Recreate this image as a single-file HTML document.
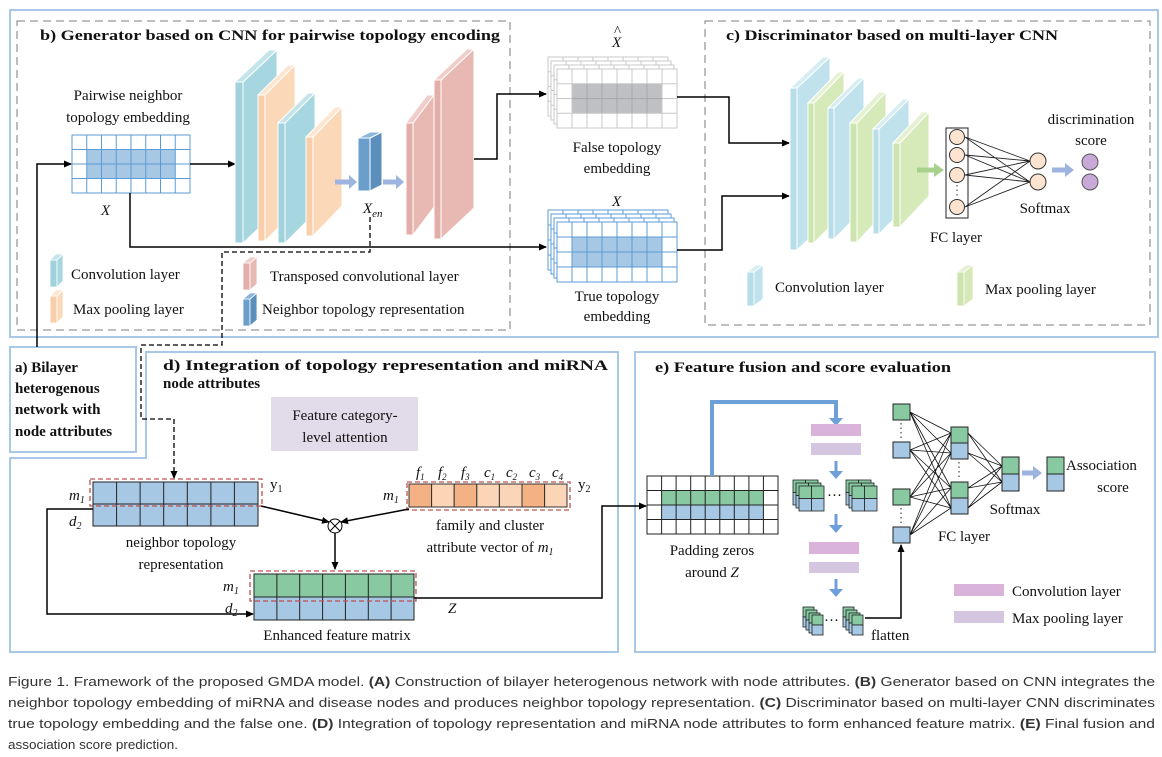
<!DOCTYPE html>
<html><head><meta charset="utf-8"><style>
html,body{margin:0;padding:0;background:#fff;}
svg{display:block;}
text{font-family:"Liberation Serif",serif;font-size:15px;fill:#111;}
.b{font-weight:bold;}
.i{font-style:italic;}
.cap{font-family:"Liberation Sans",sans-serif;font-size:13px;fill:#333;}
</style></head><body>
<svg width="1162" height="757" viewBox="0 0 1162 757" xmlns="http://www.w3.org/2000/svg">
<defs>
<marker id="ah" markerWidth="8" markerHeight="8" refX="7" refY="4" orient="auto" markerUnits="userSpaceOnUse"><path d="M0,0.5 L8,4 L0,7.5 Z" fill="#000"/></marker>
<marker id="bh" markerWidth="12" markerHeight="12" refX="9" refY="6" orient="auto" markerUnits="userSpaceOnUse"><path d="M0,0 L10,6 L0,12 Z" fill="#6f9fd8"/></marker>
<g id="fg">
<rect x="0" y="0" width="120" height="59" fill="#fff" stroke="#c8c8c8"/>
<rect x="15" y="14.75" width="90" height="29.5" fill="#bfc0c3"/>
<path d="M15,0V59M30,0V59M45,0V59M60,0V59M75,0V59M90,0V59M105,0V59M0,14.75H120M0,29.5H120M0,44.25H120" stroke="#c8c8c8" stroke-width="1" fill="none"/>
<path d="M15,29.5H105M30,14.75V44.25M45,14.75V44.25M60,14.75V44.25M75,14.75V44.25M90,14.75V44.25" stroke="#a8a8aa" fill="none"/>
</g>
<g id="tg">
<rect x="0" y="0" width="120" height="60" fill="#fff" stroke="#5b9bd5"/>
<rect x="15" y="15" width="90" height="30" fill="#a6c8e4"/>
<path d="M15,0V60M30,0V60M45,0V60M60,0V60M75,0V60M90,0V60M105,0V60M0,15H120M0,30H120M0,45H120" stroke="#5b9bd5" stroke-width="1" fill="none"/>
</g>
<g id="cube">
<rect x="0" y="0" width="12.5" height="12.5" fill="#88c9a1" stroke="#222" stroke-width="0.8"/>
<rect x="12.5" y="0" width="12.5" height="12.5" fill="#88c9a1" stroke="#222" stroke-width="0.8"/>
<rect x="0" y="12.5" width="12.5" height="12.5" fill="#a6c8e4" stroke="#222" stroke-width="0.8"/>
<rect x="12.5" y="12.5" width="12.5" height="12.5" fill="#a6c8e4" stroke="#222" stroke-width="0.8"/>
</g>
<g id="stack"><use href="#cube" x="0" y="0"/><use href="#cube" x="3" y="3"/><use href="#cube" x="6" y="6"/></g>
<g id="sc">
<rect x="0" y="0" width="11" height="10" fill="#88c9a1" stroke="#222" stroke-width="0.8"/>
<rect x="0" y="10" width="11" height="10" fill="#a6c8e4" stroke="#222" stroke-width="0.8"/>
</g>
<g id="sstack"><use href="#sc" x="0" y="0"/><use href="#sc" x="3" y="3"/><use href="#sc" x="6" y="6"/><use href="#sc" x="9" y="8"/></g>
</defs>

<!-- outer boxes -->
<rect x="10" y="10" width="1148" height="327" fill="none" stroke="#a9c8e8" stroke-width="2"/>
<rect x="17" y="21" width="493" height="309" fill="none" stroke="#999" stroke-width="1.3" stroke-dasharray="8,5"/>
<rect x="705" y="21" width="445" height="304" fill="none" stroke="#999" stroke-width="1.3" stroke-dasharray="8,5"/>
<rect x="10" y="347" width="126" height="105" fill="none" stroke="#a9c8e8" stroke-width="2"/>
<path d="M146,352 H618 V652 H10 V458 H146 Z" fill="none" stroke="#a9c8e8" stroke-width="2"/>
<rect x="635" y="352" width="520" height="300" fill="none" stroke="#a9c8e8" stroke-width="2"/>

<!-- b) -->
<text x="40" y="40" class="b" textLength="460" lengthAdjust="spacingAndGlyphs">b)  Generator based on CNN for pairwise topology encoding</text>
<text x="128" y="100" text-anchor="middle">Pairwise neighbor</text>
<text x="128" y="122" text-anchor="middle">topology embedding</text>
<rect x="72" y="135" width="118" height="58" fill="#fff" stroke="#5b9bd5"/>
<rect x="86.75" y="149.5" width="88.5" height="29" fill="#a6c8e4"/>
<path d="M86.75,135V193M101.5,135V193M116.25,135V193M131,135V193M145.75,135V193M160.5,135V193M175.25,135V193M72,149.5H190M72,164H190M72,178.5H190" stroke="#5b9bd5" fill="none"/>
<text x="101" y="215" class="i">X</text>
<path d="M190,164 H235" stroke="#000" stroke-width="1.5" fill="none" marker-end="url(#ah)"/>
<path d="M37,347 V164 H71" stroke="#000" stroke-width="1.5" fill="none" marker-end="url(#ah)"/>
<path d="M130,193 V247 H546" stroke="#000" stroke-width="1.5" fill="none" marker-end="url(#ah)"/>

<!-- generator slabs -->
<g stroke="#fff" stroke-width="1">
<rect x="235" y="82" width="8" height="161" fill="#9fd2dc"/><polygon points="243,82 277,50 277,211 243,243" fill="#a6d6df"/><polygon points="235,82 269,50 277,50 243,82" fill="#c2e4ea"/>
<rect x="258" y="95" width="7" height="146" fill="#f8cfaa"/><polygon points="265,95 295,65 295,211 265,241" fill="#fbd8b8"/><polygon points="258,95 288,65 295,65 265,95" fill="#fde6d0"/>
<rect x="278" y="123" width="7" height="120" fill="#9fd2dc"/><polygon points="285,123 315,93 315,213 285,243" fill="#a6d6df"/><polygon points="278,123 308,93 315,93 285,123" fill="#c2e4ea"/>
<rect x="306" y="137" width="7" height="99" fill="#f8cfaa"/><polygon points="313,137 342,107 342,206 313,236" fill="#fbd8b8"/><polygon points="306,137 335,107 342,107 313,137" fill="#fde6d0"/>
<rect x="358" y="138" width="12" height="53" fill="#6a9fcb"/><polygon points="370,138 382,132 382,185 370,191" fill="#5a8fbd"/><polygon points="358,138 370,132 382,132 370,138" fill="#8ab6dc"/>
<rect x="406" y="123" width="7" height="112" fill="#e3aea9"/><polygon points="413,123 434,95 434,207 413,235" fill="#e8b8b3"/><polygon points="406,123 427,95 434,95 413,123" fill="#f0cdc9"/>
<rect x="434" y="80" width="7" height="159" fill="#e3aea9"/><polygon points="441,80 474,49 474,208 441,239" fill="#e8b8b3"/><polygon points="434,80 467,49 474,49 441,80" fill="#f0cdc9"/>
</g>
<path d="M335,182 H350" stroke="#9db3e0" stroke-width="5"/><polygon points="349,175 357,182 349,189" fill="#9db3e0"/>
<path d="M383,182 H397" stroke="#9db3e0" stroke-width="5"/><polygon points="396,175 404,182 396,189" fill="#9db3e0"/>
<text x="363" y="213" class="i">X<tspan font-size="11" dy="4">en</tspan></text>
<path d="M474,159 H497 V94 H546" stroke="#000" stroke-width="1.5" fill="none" marker-end="url(#ah)"/>
<path d="M370,217 V252 H222 V345 H141 V419 H174 V478" stroke="#000" stroke-width="1.3" fill="none" stroke-dasharray="5,3" marker-end="url(#ah)"/>

<!-- b legend -->
<g stroke="#fff" stroke-width="0.8">
<rect x="50" y="260" width="7" height="27" fill="#9fd2dc"/><polygon points="57,260 63,254 63,281 57,287" fill="#a6d6df"/><polygon points="50,260 56,254 63,254 57,260" fill="#c2e4ea"/>
<rect x="50" y="296" width="7" height="27" fill="#f8cfaa"/><polygon points="57,296 63,290 63,317 57,323" fill="#fbd8b8"/><polygon points="50,296 56,290 63,290 57,296" fill="#fde6d0"/>
<rect x="243" y="263" width="7" height="27" fill="#e3aea9"/><polygon points="250,263 257,257 257,284 250,290" fill="#e8b8b3"/><polygon points="243,263 250,257 257,257 250,263" fill="#f0cdc9"/>
<rect x="243" y="299" width="7" height="27" fill="#6a9fcb"/><polygon points="250,299 257,293 257,320 250,326" fill="#5a8fbd"/><polygon points="243,299 250,293 257,293 250,299" fill="#8ab6dc"/>
</g>
<text x="71" y="279">Convolution layer</text>
<text x="73" y="314">Max pooling layer</text>
<text x="270" y="281">Transposed convolutional layer</text>
<text x="262" y="314">Neighbor topology representation</text>

<!-- middle grids -->
<text x="612" y="47" class="i">X</text><text x="614" y="36" font-size="12">^</text>
<use href="#fg" x="548" y="57"/><use href="#fg" x="551" y="61"/><use href="#fg" x="554" y="65"/><use href="#fg" x="557" y="69"/>
<text x="617" y="152" text-anchor="middle">False topology</text>
<text x="617" y="173" text-anchor="middle">embedding</text>
<text x="612" y="206" class="i">X</text>
<use href="#tg" x="548" y="210"/><use href="#tg" x="551" y="214"/><use href="#tg" x="554" y="218"/><use href="#tg" x="557" y="222"/>
<text x="617" y="301" text-anchor="middle">True topology</text>
<text x="617" y="321" text-anchor="middle">embedding</text>
<path d="M677,97 H729 V143 H789" stroke="#000" stroke-width="1.5" fill="none" marker-end="url(#ah)"/>
<path d="M677,250 H722 V196 H789" stroke="#000" stroke-width="1.5" fill="none" marker-end="url(#ah)"/>

<!-- c) -->
<text x="726" y="40" class="b" textLength="332" lengthAdjust="spacingAndGlyphs">c) Discriminator based on multi-layer CNN</text>
<g stroke="#fff" stroke-width="1">
<rect x="790" y="88" width="7" height="162" fill="#b6dde8"/><polygon points="797,88 830,57 830,219 797,250" fill="#bfe2ec"/><polygon points="790,88 823,57 830,57 797,88" fill="#d6edf3"/>
<rect x="808" y="103" width="6" height="140" fill="#cde4ae"/><polygon points="814,103 844,72 844,212 814,243" fill="#d6e9b8"/><polygon points="808,103 838,72 844,72 814,103" fill="#e5f1d2"/>
<rect x="828" y="108" width="6" height="131" fill="#b6dde8"/><polygon points="834,108 864,78 864,209 834,239" fill="#bfe2ec"/><polygon points="828,108 858,78 864,78 834,108" fill="#d6edf3"/>
<rect x="850" y="123" width="7" height="119" fill="#cde4ae"/><polygon points="857,123 886,92 886,211 857,242" fill="#d6e9b8"/><polygon points="850,123 879,92 886,92 857,123" fill="#e5f1d2"/>
<rect x="873" y="129" width="6" height="105" fill="#b6dde8"/><polygon points="879,129 909,99 909,204 879,234" fill="#bfe2ec"/><polygon points="873,129 903,99 909,99 879,129" fill="#d6edf3"/>
<rect x="893" y="143" width="7" height="84" fill="#cde4ae"/><polygon points="900,143 929,112 929,196 900,227" fill="#d6e9b8"/><polygon points="893,143 922,112 929,112 900,143" fill="#e5f1d2"/>
</g>
<path d="M917,170 H935" stroke="#a9d18e" stroke-width="5"/><polygon points="934,163 944,170 934,177" fill="#a9d18e"/>
<rect x="946" y="128" width="22" height="90" fill="#fff" stroke="#222"/>
<g stroke="#222" stroke-width="0.9">
<path d="M965,137L1030,161M965,137L1030,182M965,155L1030,161M965,155L1030,182M965,175L1030,161M965,175L1030,182M965,207L1030,161M965,207L1030,182" fill="none"/>
</g>
<g fill="#fce4d0" stroke="#333">
<circle cx="957" cy="137" r="7.5"/><circle cx="957" cy="155" r="7.5"/><circle cx="957" cy="175" r="7.5"/><circle cx="957" cy="207" r="7.5"/>
<circle cx="1038" cy="161" r="8"/><circle cx="1038" cy="182" r="8"/>
</g>
<path d="M957,185V197" stroke="#333" stroke-dasharray="1.5,3"/>
<path d="M1052,170 H1066" stroke="#9db3e0" stroke-width="5"/><polygon points="1065,163 1074,170 1065,177" fill="#9db3e0"/>
<g fill="#c9a9d8" stroke="#555"><circle cx="1090" cy="162" r="8"/><circle cx="1090" cy="182" r="8"/></g>
<text x="1091" y="124" text-anchor="middle">discrimination</text>
<text x="1091" y="145" text-anchor="middle">score</text>
<text x="1045" y="213" text-anchor="middle">Softmax</text>
<text x="956" y="242" text-anchor="middle">FC layer</text>
<g stroke="#fff" stroke-width="0.8">
<rect x="747" y="272" width="7" height="34" fill="#b6dde8"/><polygon points="754,272 763,265 763,299 754,306" fill="#bfe2ec"/><polygon points="747,272 756,265 763,265 754,272" fill="#d6edf3"/>
<rect x="957" y="272" width="7" height="34" fill="#cde4ae"/><polygon points="964,272 973,265 973,299 964,306" fill="#d6e9b8"/><polygon points="957,272 966,265 973,265 964,272" fill="#e5f1d2"/>
</g>
<text x="775" y="292">Convolution layer</text>
<text x="985" y="294">Max pooling layer</text>

<!-- a) -->
<text x="15" y="372" class="b">a)  Bilayer</text>
<text x="15" y="393" class="b">heterogenous</text>
<text x="15" y="414" class="b">network with</text>
<text x="15" y="436" class="b">node attributes</text>

<!-- d) -->
<text x="163" y="370" class="b" textLength="445" lengthAdjust="spacingAndGlyphs">d) Integration of topology representation and miRNA</text>
<text x="163" y="388" class="b">node attributes</text>
<rect x="271" y="397" width="147" height="54" fill="#e2dcea"/>
<text x="345" y="420" text-anchor="middle">Feature  category-</text>
<text x="345" y="442" text-anchor="middle">level attention</text>

<rect x="93" y="482" width="165" height="44" fill="#a6c8e4" stroke="#222"/>
<path d="M116.6,482V526M140.1,482V526M163.7,482V526M187.3,482V526M210.9,482V526M234.4,482V526M93,504H258" stroke="#222" fill="none"/>
<rect x="90" y="479" width="172" height="27" fill="none" stroke="#c0504d" stroke-width="1.3" stroke-dasharray="5,3"/>
<text x="270" y="489">y<tspan font-size="10" dy="3">1</tspan></text>
<text x="69" y="500" class="i">m<tspan font-size="10" dy="3">1</tspan></text>
<text x="69" y="526" class="i">d<tspan font-size="10" dy="3">2</tspan></text>
<text x="181" y="547" text-anchor="middle">neighbor topology</text>
<text x="181" y="569" text-anchor="middle">representation</text>

<g stroke="#333">
<rect x="409" y="484" width="22.6" height="23" fill="#f4b183"/>
<rect x="431.6" y="484" width="22.6" height="23" fill="#fbd5b5"/>
<rect x="454.2" y="484" width="22.6" height="23" fill="#f4b183"/>
<rect x="476.8" y="484" width="22.6" height="23" fill="#fbd5b5"/>
<rect x="499.4" y="484" width="22.6" height="23" fill="#fbd5b5"/>
<rect x="522" y="484" width="22.6" height="23" fill="#f4b183"/>
<rect x="544.6" y="484" width="22.4" height="23" fill="#fbd5b5"/>
</g>
<rect x="407" y="482" width="163" height="28" fill="none" stroke="#c0504d" stroke-width="1.3" stroke-dasharray="5,3"/>
<g class="i" font-size="13">
<text x="416" y="477" class="i" font-size="13">f<tspan font-size="9" dy="3">1</tspan></text>
<text x="438" y="477" class="i" font-size="13">f<tspan font-size="9" dy="3">2</tspan></text>
<text x="461" y="477" class="i" font-size="13">f<tspan font-size="9" dy="3">3</tspan></text>
<text x="484" y="477" class="i" font-size="13">c<tspan font-size="9" dy="3">1</tspan></text>
<text x="506" y="477" class="i" font-size="13">c<tspan font-size="9" dy="3">2</tspan></text>
<text x="529" y="477" class="i" font-size="13">c<tspan font-size="9" dy="3">3</tspan></text>
<text x="552" y="477" class="i" font-size="13">c<tspan font-size="9" dy="3">4</tspan></text>
</g>
<text x="578" y="489">y<tspan font-size="10" dy="3">2</tspan></text>
<text x="383" y="500" class="i">m<tspan font-size="10" dy="3">1</tspan></text>
<text x="490" y="530" text-anchor="middle">family and cluster</text>
<text x="490" y="552" text-anchor="middle">attribute vector of <tspan class="i">m</tspan><tspan font-size="10" dy="3" class="i">1</tspan></text>

<path d="M261,506 L329,522" stroke="#000" stroke-width="1.5" fill="none" marker-end="url(#ah)"/>
<path d="M409,509 L341,522" stroke="#000" stroke-width="1.5" fill="none" marker-end="url(#ah)"/>
<circle cx="335" cy="526" r="7" fill="#fff" stroke="#000"/>
<path d="M330,521L340,531M340,521L330,531" stroke="#000"/>
<path d="M335,533 V569" stroke="#000" stroke-width="1.5" fill="none" marker-end="url(#ah)"/>

<rect x="254" y="574" width="160" height="23" fill="#88c9a1" stroke="#222"/>
<rect x="254" y="597" width="160" height="23" fill="#a6c8e4" stroke="#222"/>
<path d="M276.9,574V620M299.7,574V620M322.6,574V620M345.4,574V620M368.3,574V620M391.1,574V620" stroke="#222"/>
<rect x="250" y="571" width="166" height="30" fill="none" stroke="#c0504d" stroke-width="1.3" stroke-dasharray="5,3"/>
<text x="223" y="591" class="i">m<tspan font-size="10" dy="3">1</tspan></text>
<text x="225" y="613" class="i">d<tspan font-size="10" dy="3">2</tspan></text>
<text x="337" y="640" text-anchor="middle">Enhanced feature matrix</text>
<path d="M93,509 H47 V614 H253" stroke="#000" stroke-width="1.5" fill="none" marker-end="url(#ah)"/>
<path d="M414,598 H602 V506 H646" stroke="#000" stroke-width="1.5" fill="none" marker-end="url(#ah)"/>
<text x="448" y="613" class="i">Z</text>

<!-- e) -->
<text x="655" y="372" class="b" textLength="296" lengthAdjust="spacingAndGlyphs">e) Feature fusion and  score evaluation</text>
<rect x="647" y="476" width="131" height="58" fill="#fff" stroke="#222"/>
<rect x="661.6" y="490.5" width="102.2" height="14.5" fill="#88c9a1"/>
<rect x="661.6" y="505" width="102.2" height="14.5" fill="#a6c8e4"/>
<path d="M661.6,476V534M676.1,476V534M690.7,476V534M705.2,476V534M719.8,476V534M734.3,476V534M748.9,476V534M763.4,476V534M647,490.5H778M647,505H778M647,519.5H778" stroke="#222" fill="none"/>
<text x="712" y="555" text-anchor="middle">Padding zeros</text>
<text x="712" y="577" text-anchor="middle">around <tspan class="i">Z</tspan></text>
<path d="M712,476 V402 H836 V420" stroke="#6f9fd8" stroke-width="4" fill="none"/>
<polygon points="829,418 843,418 836,426" fill="#6f9fd8"/>
<rect x="811" y="424" width="50" height="12" fill="#d9b3d9"/>
<rect x="811" y="443" width="50" height="12" fill="#d4c5e0"/>
<path d="M836,461V472" stroke="#6f9fd8" stroke-width="3"/><polygon points="829,471 843,471 836,479" fill="#6f9fd8"/>
<use href="#stack" x="793" y="480"/><use href="#stack" x="846" y="480"/>
<text x="827" y="500" font-size="14">···</text>
<path d="M836,514V526" stroke="#6f9fd8" stroke-width="3"/><polygon points="829,525 843,525 836,533" fill="#6f9fd8"/>
<rect x="809" y="542" width="50" height="12" fill="#d9b3d9"/>
<rect x="809" y="562" width="50" height="11" fill="#d4c5e0"/>
<path d="M836,579V590" stroke="#6f9fd8" stroke-width="3"/><polygon points="829,589 843,589 836,597" fill="#6f9fd8"/>
<use href="#sstack" x="803" y="607"/><use href="#sstack" x="843" y="607"/>
<text x="824" y="625" font-size="14">···</text>
<path d="M865,618 H901 V545" stroke="#000" stroke-width="1.5" fill="none" marker-end="url(#ah)"/>
<text x="871" y="640">flatten</text>

<g stroke="#111" stroke-width="0.8" fill="none">
<path d="M910,412L951,433M910,412L951,453M910,412L951,488M910,412L951,508
M910,450L951,433M910,450L951,453M910,450L951,488M910,450L951,508
M910,497L951,433M910,497L951,453M910,497L951,488M910,497L951,508
M910,535L951,433M910,535L951,453M910,535L951,488M910,535L951,508
M968,433L1002,466M968,433L1002,482M968,453L1002,466M968,453L1002,482
M968,488L1002,466M968,488L1002,482M968,508L1002,466M968,508L1002,482"/>
</g>
<g stroke="#222">
<rect x="893" y="404" width="17" height="16" fill="#88c9a1"/>
<rect x="893" y="442" width="17" height="16" fill="#a6c8e4"/>
<rect x="893" y="489" width="17" height="16" fill="#88c9a1"/>
<rect x="893" y="527" width="17" height="16" fill="#a6c8e4"/>
<rect x="951" y="427" width="17" height="16" fill="#88c9a1"/>
<rect x="951" y="443" width="17" height="16" fill="#a6c8e4"/>
<rect x="951" y="482" width="17" height="16" fill="#88c9a1"/>
<rect x="951" y="498" width="17" height="16" fill="#a6c8e4"/>
<rect x="1002" y="457" width="17" height="17" fill="#88c9a1"/>
<rect x="1002" y="474" width="17" height="17" fill="#a6c8e4"/>
<rect x="1047" y="457" width="17" height="17" fill="#88c9a1"/>
<rect x="1047" y="474" width="17" height="17" fill="#a6c8e4"/>
</g>
<path d="M901,423V439M901,508V524M959,462V478" stroke="#222" stroke-dasharray="1.5,3"/>
<path d="M1022,473 H1034" stroke="#9db3e0" stroke-width="5"/><polygon points="1033,466 1042,473 1033,480" fill="#9db3e0"/>
<text x="1066" y="470">Association</text>
<text x="1113" y="492" text-anchor="middle">score</text>
<text x="1015" y="514" text-anchor="middle">Softmax</text>
<text x="964" y="541" text-anchor="middle">FC layer</text>
<rect x="954" y="584" width="50" height="12" fill="#d9b3d9"/>
<text x="1012" y="596">Convolution layer</text>
<rect x="954" y="611" width="50" height="12" fill="#d4c5e0"/>
<text x="1012" y="623">Max pooling layer</text>

<!-- caption -->
<text class="cap" x="8" y="686" textLength="1147" lengthAdjust="spacingAndGlyphs">Figure 1.  Framework of the proposed GMDA model. <tspan font-weight="bold">(A)</tspan> Construction of bilayer heterogenous network with node attributes. <tspan font-weight="bold">(B)</tspan> Generator based on CNN integrates the</text>
<text class="cap" x="8" y="707" textLength="1147" lengthAdjust="spacingAndGlyphs">neighbor topology embedding of miRNA and disease nodes and produces neighbor topology representation. <tspan font-weight="bold">(C)</tspan> Discriminator based on multi-layer CNN discriminates</text>
<text class="cap" x="8" y="728" textLength="1147" lengthAdjust="spacingAndGlyphs">true topology embedding and the false one. <tspan font-weight="bold">(D)</tspan> Integration of topology representation and miRNA node attributes to form enhanced feature matrix. <tspan font-weight="bold">(E)</tspan> Final fusion and</text>
<text class="cap" x="8" y="749" textLength="170" lengthAdjust="spacingAndGlyphs">association score prediction.</text>
</svg>
</body></html>
